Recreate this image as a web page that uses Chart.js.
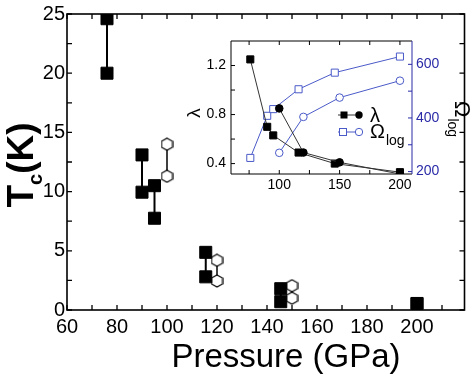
<!DOCTYPE html>
<html lang="en">
<head>
<meta charset="UTF-8">
<title>Tc vs Pressure</title>
<script src="https://cdn.jsdelivr.net/npm/chart.js@4.4.0/dist/chart.umd.min.js"></script>
<style>
    body { margin: 0; background: #fff; }
    #wrap { position: relative; width: 474px; height: 379px; }
    #wrap canvas { position: absolute; left: 0; top: 0; }
</style>
</head>
<body>
<div id="wrap">
    <canvas id="canvas_main" width="474" height="379"></canvas>
    <canvas id="canvas_inset" width="474" height="379"></canvas>
</div>

<script>
    // main panel: Tc range (upper / lower estimate) for each pressure
    const pressSquares = [76, 90, 95, 115.5, 145.5, 200];
    const tcSquaresHigh = [24.6, 13.1, 10.5, 4.87, 1.8, 0.55];
    const tcSquaresLow = [20.0, 9.95, 7.75, 2.8, 0.7, 0.55];
    const pressHex = [100, 120, 150];
    const tcHexHigh = [14.0, 4.2, 2.05];
    const tcHexLow = [11.3, 2.45, 1.0];

    // inset: lambda and omega_log
    const insetPressSq = [76, 90, 95, 116, 146, 200];
    const lambdaSq = [1.25, 0.70, 0.63, 0.49, 0.40, 0.33];
    const omegaSq = [251, 408, 433, 507, 569, 629];
    const insetPressCi = [100, 120, 150, 200];
    const lambdaCi = [0.85, 0.49, 0.41, 0.315];
    const omegaCi = [270, 404, 476, 539];

    // ticks
    const mainXTicks = [60, 70, 80, 90, 100, 110, 120, 130, 140, 150, 160, 170, 180, 190, 200, 210];
    const mainXLabels = [60, 80, 100, 120, 140, 160, 180, 200];
    const mainYTicks = [0, 2.5, 5, 7.5, 10, 12.5, 15, 17.5, 20, 22.5, 25];
    const mainYLabels = [0, 5, 10, 15, 20, 25];
    const insetXTicks = [75, 100, 125, 150, 175, 200];
    const insetXLabels = [100, 150, 200];
    const lambdaTicks = [0.4, 0.6, 0.8, 1.0, 1.2];
    const lambdaLabels = [0.4, 0.8, 1.2];
    const omegaTicks = [200, 300, 400, 500, 600];
    const omegaLabels = [200, 400, 600];

    const BLUE = '#4a5ac8';
    const BLUE_AXIS = '#2a2aa8';
    const FONT = '"Liberation Sans", Arial, sans-serif';

    Chart.defaults.font.family = FONT;
    Chart.defaults.color = '#000';

    function hexagon(w, h) {
        const c = document.createElement('canvas');
        c.width = w; c.height = h;
        const g = c.getContext('2d');
        const cx = w / 2, cy = h / 2, rx = w / 2 - 1, ry = h / 2 - 1;
        g.beginPath();
        g.moveTo(cx, cy - ry);
        g.lineTo(cx + rx, cy - ry / 2);
        g.lineTo(cx + rx, cy + ry / 2);
        g.lineTo(cx, cy + ry);
        g.lineTo(cx - rx, cy + ry / 2);
        g.lineTo(cx - rx, cy - ry / 2);
        g.closePath();
        g.fillStyle = '#fff';
        g.fill();
        g.strokeStyle = '#000';
        g.lineWidth = 1.2;
        g.stroke();
        return c;
    }
    const hexImg = hexagon(13, 14);

    function setTicks(list) {
        return s => { s.ticks = list.map(v => ({ value: v })); };
    }
    function labelIf(list) {
        return v => list.includes(v) ? String(v) : '';
    }

    // ---------- main chart ----------
    const mainSets = [];
    pressSquares.forEach((p, i) => {
        mainSets.push({
            data: [{ x: p, y: tcSquaresHigh[i] }, { x: p, y: tcSquaresLow[i] }],
            showLine: true, borderColor: '#000', borderWidth: 2,
            pointStyle: 'rect', pointRadius: 8.5,
            pointBackgroundColor: '#000', pointBorderColor: '#000', pointBorderWidth: 1
        });
    });
    pressHex.forEach((p, i) => {
        mainSets.push({
            data: [{ x: p, y: tcHexHigh[i] }, { x: p, y: tcHexLow[i] }],
            showLine: true, borderColor: '#000', borderWidth: 1.5,
            pointStyle: hexImg, pointRadius: 7
        });
    });

    const mainFrame = {
        id: 'mainFrame',
        beforeDatasetsDraw(chart) {
            const { ctx, chartArea: a, scales } = chart;
            ctx.save();
            ctx.strokeStyle = '#000';
            ctx.lineWidth = 1.6;
            ctx.strokeRect(a.left, a.top, a.right - a.left, a.bottom - a.top);
            ctx.lineWidth = 1.3;
            ctx.beginPath();
            scales.x.ticks.forEach(t => {
                const px = scales.x.getPixelForValue(t.value);
                ctx.moveTo(px, a.bottom); ctx.lineTo(px, a.bottom - 5);
                ctx.moveTo(px, a.top); ctx.lineTo(px, a.top + 5);
            });
            scales.y.ticks.forEach(t => {
                const py = scales.y.getPixelForValue(t.value);
                ctx.moveTo(a.left, py); ctx.lineTo(a.left + 5, py);
                ctx.moveTo(a.right, py); ctx.lineTo(a.right - 5, py);
            });
            ctx.stroke();

            // x title
            ctx.fillStyle = '#000';
            ctx.font = '33px ' + FONT;
            ctx.textAlign = 'center';
            ctx.textBaseline = 'alphabetic';
            ctx.fillText('Pressure (GPa)', 286, 367);

            // y title T_c(K)
            ctx.translate(33, 165);
            ctx.rotate(-Math.PI / 2);
            ctx.textAlign = 'left';
            const big = 'bold 37px ' + FONT, small = 'bold 20px ' + FONT;
            ctx.font = big;
            const wT = ctx.measureText('T').width, wK = ctx.measureText('(K)').width;
            ctx.font = small;
            const wc = ctx.measureText('c').width;
            let x0 = -(wT + wc + wK) / 2;
            ctx.font = big; ctx.fillText('T', x0, 0);
            ctx.font = small; ctx.fillText('c', x0 + wT, 9);
            ctx.font = big; ctx.fillText('(K)', x0 + wT + wc, 0);
            ctx.restore();
        }
    };

    new Chart(document.getElementById('canvas_main'), {
        type: 'scatter',
        data: { datasets: mainSets },
        options: {
            responsive: false,
            animation: false,
            events: [],
            devicePixelRatio: 1,
            layout: { padding: { top: 12, right: 2, left: 0, bottom: 0 } },
            plugins: { legend: { display: false }, tooltip: { enabled: false } },
            scales: {
                x: {
                    type: 'linear', min: 60, max: 219,
                    afterFit: s => { s.height = 69; },
                    afterBuildTicks: setTicks(mainXTicks),
                    grid: { display: false, drawTicks: false },
                    border: { display: false },
                    ticks: { padding: 5, font: { size: 20 }, maxRotation: 0, autoSkip: false, callback: labelIf(mainXLabels) }
                },
                y: {
                    type: 'linear', min: 0, max: 25,
                    afterFit: s => { s.width = 67; },
                    afterBuildTicks: setTicks(mainYTicks),
                    grid: { display: false, drawTicks: false },
                    border: { display: false },
                    ticks: { padding: 2, font: { size: 20 }, autoSkip: false, callback: labelIf(mainYLabels) }
                }
            }
        },
        plugins: [mainFrame]
    });

    // ---------- inset ----------
    const insetFrame = {
        id: 'insetFrame',
        beforeDatasetsDraw(chart) {
            const { ctx, chartArea: a, scales } = chart;
            ctx.save();
            ctx.lineWidth = 1;
            ctx.strokeStyle = '#000';
            ctx.beginPath();
            ctx.moveTo(a.right, a.top); ctx.lineTo(a.left, a.top);
            ctx.lineTo(a.left, a.bottom); ctx.lineTo(a.right, a.bottom);
            scales.x.ticks.forEach(t => {
                const px = scales.x.getPixelForValue(t.value);
                ctx.moveTo(px, a.bottom); ctx.lineTo(px, a.bottom - 4);
                ctx.moveTo(px, a.top); ctx.lineTo(px, a.top + 4);
            });
            scales.yL.ticks.forEach(t => {
                const py = scales.yL.getPixelForValue(t.value);
                ctx.moveTo(a.left, py); ctx.lineTo(a.left + 4, py);
            });
            ctx.stroke();
            ctx.strokeStyle = BLUE_AXIS;
            ctx.beginPath();
            ctx.moveTo(a.right, a.top); ctx.lineTo(a.right, a.bottom);
            scales.yR.ticks.forEach(t => {
                const py = scales.yR.getPixelForValue(t.value);
                ctx.moveTo(a.right, py); ctx.lineTo(a.right - 4, py);
            });
            ctx.stroke();

            // axis titles
            ctx.fillStyle = '#000';
            ctx.textBaseline = 'alphabetic';
            ctx.save();
            ctx.translate(200, 113);
            ctx.rotate(-Math.PI / 2);
            ctx.textAlign = 'center';
            ctx.font = '19px ' + FONT;
            ctx.fillText('λ', 0, 0);
            ctx.restore();

            ctx.save();
            ctx.translate(455, 101);
            ctx.rotate(Math.PI / 2);
            ctx.textAlign = 'left';
            ctx.font = '22px ' + FONT;
            const wO = ctx.measureText('Ω').width;
            ctx.fillText('Ω', 0, 0);
            ctx.font = '14px ' + FONT;
            ctx.fillText('log', wO + 1, 7);
            ctx.restore();
            ctx.restore();
        },
        afterDraw(chart) {
            const ctx = chart.ctx;
            ctx.save();
            // legend row 1: lambda
            ctx.strokeStyle = '#333';
            ctx.lineWidth = 1;
            ctx.beginPath(); ctx.moveTo(338, 115); ctx.lineTo(362, 115); ctx.stroke();
            ctx.fillStyle = '#000';
            ctx.fillRect(340.5, 111.5, 7, 7);
            ctx.beginPath(); ctx.arc(359, 115, 3.7, 0, Math.PI * 2); ctx.fill();
            ctx.font = '20px ' + FONT;
            ctx.textAlign = 'left';
            ctx.textBaseline = 'alphabetic';
            ctx.fillText('λ', 370, 122);
            // legend row 2: omega_log
            ctx.strokeStyle = BLUE;
            ctx.beginPath(); ctx.moveTo(338, 132); ctx.lineTo(362, 132); ctx.stroke();
            ctx.fillStyle = '#fff';
            ctx.fillRect(339.5, 128.5, 7, 7);
            ctx.strokeRect(339.5, 128.5, 7, 7);
            ctx.beginPath(); ctx.arc(359, 132, 3.7, 0, Math.PI * 2); ctx.fill(); ctx.stroke();
            ctx.fillStyle = '#000';
            ctx.font = '20px ' + FONT;
            ctx.fillText('Ω', 370, 138);
            const wO = ctx.measureText('Ω').width;
            ctx.font = '14px ' + FONT;
            ctx.fillText('log', 370 + wO + 1, 145);
            ctx.restore();
        }
    };

    const toPts = (xs, ys) => xs.map((x, i) => ({ x: x, y: ys[i] }));

    new Chart(document.getElementById('canvas_inset'), {
        type: 'scatter',
        data: {
            datasets: [
                {
                    data: toPts(insetPressCi, lambdaCi), yAxisID: 'yL',
                    showLine: true, borderColor: '#333', borderWidth: 1,
                    pointStyle: 'circle', pointRadius: 3.8,
                    pointBackgroundColor: '#000', pointBorderColor: '#000', pointBorderWidth: 1
                },
                {
                    data: toPts(insetPressSq, lambdaSq), yAxisID: 'yL',
                    showLine: true, borderColor: '#333', borderWidth: 1,
                    pointStyle: 'rect', pointRadius: 5,
                    pointBackgroundColor: '#000', pointBorderColor: '#000', pointBorderWidth: 1
                },
                {
                    data: toPts(insetPressCi, omegaCi), yAxisID: 'yR',
                    showLine: true, borderColor: BLUE, borderWidth: 1,
                    pointStyle: 'circle', pointRadius: 3.8,
                    pointBackgroundColor: '#fff', pointBorderColor: BLUE, pointBorderWidth: 1
                },
                {
                    data: toPts(insetPressSq, omegaSq), yAxisID: 'yR',
                    showLine: true, borderColor: BLUE, borderWidth: 1,
                    pointStyle: 'rect', pointRadius: 5,
                    pointBackgroundColor: '#fff', pointBorderColor: BLUE, pointBorderWidth: 1
                }
            ]
        },
        options: {
            responsive: false,
            animation: false,
            events: [],
            devicePixelRatio: 1,
            layout: { padding: { top: 41, right: 0, left: 0, bottom: 0 } },
            plugins: { legend: { display: false }, tooltip: { enabled: false } },
            scales: {
                x: {
                    type: 'linear', min: 60, max: 210,
                    afterFit: s => { s.height = 205; },
                    afterBuildTicks: setTicks(insetXTicks),
                    grid: { display: false, drawTicks: false },
                    border: { display: false },
                    ticks: { padding: 3, font: { size: 14 }, maxRotation: 0, autoSkip: false, callback: labelIf(insetXLabels) }
                },
                yL: {
                    type: 'linear', position: 'left', min: 0.315, max: 1.4,
                    afterFit: s => { s.width = 231; },
                    afterBuildTicks: setTicks(lambdaTicks),
                    grid: { display: false, drawTicks: false },
                    border: { display: false },
                    ticks: { padding: 5, font: { size: 14 }, autoSkip: false, callback: labelIf(lambdaLabels) }
                },
                yR: {
                    type: 'linear', position: 'right', min: 191, max: 687,
                    afterFit: s => { s.width = 62; },
                    afterBuildTicks: setTicks(omegaTicks),
                    grid: { display: false, drawTicks: false },
                    border: { display: false },
                    ticks: { padding: 4, color: BLUE_AXIS, font: { size: 14 }, autoSkip: false, callback: labelIf(omegaLabels) }
                }
            }
        },
        plugins: [insetFrame]
    });
</script>
</body>
</html>
